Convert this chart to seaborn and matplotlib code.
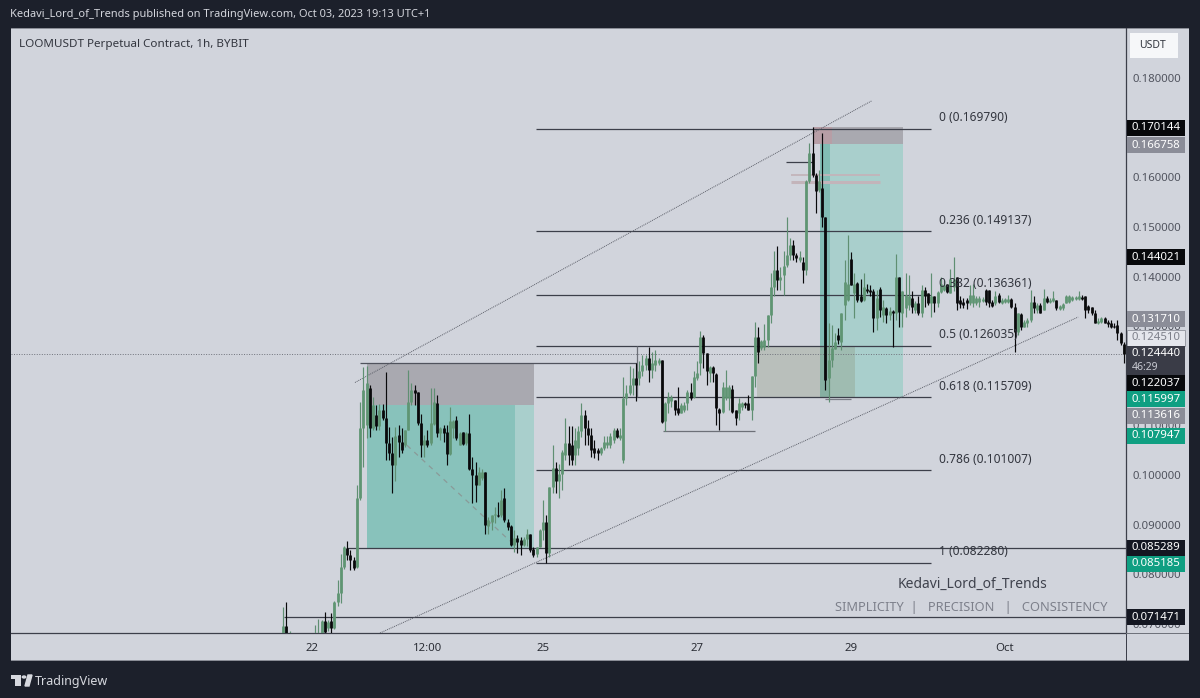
import numpy as np
import pandas as pd
import matplotlib
matplotlib.use("Agg")
import matplotlib.pyplot as plt
from matplotlib.patches import Rectangle, Circle, Polygon
import seaborn as sns

# hourly candles, hour 0 = 22 Sep 00:00
opens = [
    .0670, .0695, .0665, .0650, .0655, .0648, .0655, .0650, .0660, .0660,
    .0670, .0675, .0681, .0706, .0691, .0706, .0691, .0743, .0762, .0815,
    .0852, .0839, .0829, .0815, .0953, .1094, .1100, .1175, .1094, .1120,
    .1099, .1131, .1114, .1064, .1044, .1020, .1081, .1067, .1060, .1091,
    .1148, .1171, .1168, .1104, .1060, .1070, .1064, .1103, .1146, .1084,
    .1094, .1087, .1042, .1094, .1111, .1060, .1087, .1064, .1084, .1013,
    .1000, .0980, .0993, .1007, .0897, .0906, .0919, .0920, .0919, .0953,
    .0906, .0897, .0859, .0874, .0869, .0859, .0870, .0881, .0850, .0841,
    .0855, .0889, .0906, .0842, .0976, .1015, .0987, .1003, .1040, .1065,
    .1060, .1040, .1055, .1088, .1121, .1094, .1081, .1054, .1050, .1044,
    .1054, .1061, .1061, .1071, .1090, .1075, .1030, .1155, .1165, .1182,
    .1195, .1195, .1209, .1222, .1236, .1212, .1222, .1226, .1232, .1108,
    .1145, .1150, .1151, .1135, .1126, .1131, .1145, .1168, .1158, .1195,
    .1226, .1279, .1246, .1205, .1217, .1204, .1133, .1128, .1155, .1155,
    .1173, .1131, .1125, .1138, .1146, .1145, .1131, .1199, .1279, .1256,
    .1259, .1272, .1323, .1380, .1414, .1393, .1404, .1424, .1444, .1464,
    .1444, .1434, .1430, .1413, .1592, .1649, .1605, .1574, .1578, .1521,
    .1195, .1232, .1255, .1282, .1269, .1343, .1352, .1435, .1366, .1388,
    .1360, .1353, .1376, .1373, .1370, .1316, .1376, .1323, .1336, .1323,
    .1330, .1326, .1400, .1326, .1336, .1343, .1356, .1333, .1346, .1326,
    .1373, .1366, .1346, .1360, .1346, .1368, .1373, .1385, .1366, .1380,
    .1400, .1353, .1349, .1353, .1347, .1347, .1346, .1349, .1350, .1373,
    .1373, .1349, .1346, .1363, .1347, .1349, .1349, .1355, .1339, .1289,
    .1325, .1299, .1306, .1313, .1349, .1333, .1343, .1333, .1356, .1349,
    .1351, .1353, .1334, .1336, .1347, .1349, .1353, .1354, .1354, .1359,
    .1360, .1340, .1339, .1326, .1306, .1309, .1316, .1309, .1307, .1301,
    .1302, .1286, .1265,
]
highs = [
    .0734, .0745, .0685, .0665, .0672, .0670, .0675, .0672, .0676, .0678,
    .0698, .0709, .0708, .0723, .0707, .0721, .0747, .0788, .0841, .0857,
    .0866, .0849, .0835, .0980, .1148, .1218, .1220, .1181, .1158, .1141,
    .1144, .1144, .1208, .1097, .1077, .1097, .1101, .1094, .1091, .1212,
    .1185, .1181, .1168, .1124, .1081, .1091, .1175, .1175, .1161, .1097,
    .1101, .1101, .1138, .1111, .1118, .1087, .1087, .1087, .1124, .1037,
    .1027, .1017, .1013, .1007, .0915, .0919, .0936, .0946, .0970, .0973,
    .0912, .0899, .0889, .0879, .0876, .0876, .0892, .0882, .0855, .0855,
    .0892, .0950, .0919, .0976, .1060, .1027, .1023, .1050, .1114, .1098,
    .1099, .1094, .1098, .1145, .1131, .1111, .1094, .1071, .1054, .1057,
    .1078, .1078, .1085, .1094, .1094, .1094, .1198, .1182, .1219, .1215,
    .1226, .1229, .1242, .1242, .1259, .1249, .1252, .1236, .1232, .1148,
    .1168, .1161, .1151, .1178, .1145, .1148, .1172, .1185, .1209, .1229,
    .1291, .1283, .1246, .1219, .1219, .1205, .1135, .1188, .1212, .1182,
    .1182, .1131, .1155, .1148, .1148, .1162, .1199, .1309, .1299, .1272,
    .1305, .1323, .1407, .1451, .1461, .1420, .1451, .1520, .1477, .1474,
    .1447, .1451, .1440, .1595, .1669, .1701, .1608, .1615, .1689, .1521,
    .1306, .1302, .1286, .1296, .1326, .1433, .1484, .1450, .1407, .1390,
    .1396, .1407, .1386, .1383, .1376, .1373, .1380, .1353, .1339, .1339,
    .1333, .1446, .1400, .1370, .1407, .1403, .1370, .1350, .1360, .1383,
    .1380, .1366, .1407, .1360, .1370, .1400, .1393, .1386, .1416, .1440,
    .1400, .1360, .1356, .1356, .1383, .1386, .1360, .1360, .1358, .1376,
    .1373, .1353, .1370, .1366, .1356, .1357, .1363, .1356, .1346, .1326,
    .1326, .1312, .1316, .1373, .1360, .1346, .1346, .1376, .1360, .1356,
    .1370, .1353, .1343, .1346, .1363, .1363, .1360, .1360, .1370, .1363,
    .1360, .1343, .1339, .1333, .1316, .1319, .1319, .1312, .1312, .1306,
    .1312, .1289, .1268,
]
lows = [
    .0660, .0660, .0650, .0640, .0648, .0640, .0645, .0640, .0650, .0650,
    .0665, .0665, .0675, .0675, .0685, .0675, .0690, .0735, .0741, .0810,
    .0829, .0809, .0809, .0812, .0950, .1017, .1075, .1077, .1090, .1090,
    .1090, .1111, .1030, .1030, .0963, .0987, .1037, .1044, .1057, .1090,
    .1141, .1141, .1101, .1037, .1037, .1057, .1060, .1101, .1077, .1071,
    .1067, .1020, .1040, .1074, .1071, .1060, .1060, .1060, .1010, .0943,
    .0946, .0980, .0990, .0882, .0882, .0889, .0903, .0916, .0916, .0906,
    .0889, .0856, .0845, .0842, .0839, .0856, .0856, .0845, .0835, .0835,
    .0855, .0869, .0822, .0835, .0963, .0963, .0953, .0970, .1030, .1020,
    .1020, .1020, .1040, .1077, .1060, .1060, .1037, .1034, .1030, .1040,
    .1050, .1054, .1054, .1064, .1074, .1070, .1024, .1141, .1161, .1161,
    .1150, .1182, .1199, .1212, .1188, .1195, .1209, .1222, .1104, .1088,
    .1125, .1138, .1121, .1121, .1125, .1128, .1131, .1151, .1155, .1192,
    .1202, .1215, .1182, .1188, .1188, .1101, .1091, .1125, .1151, .1131,
    .1125, .1101, .1111, .1131, .1135, .1131, .1111, .1178, .1225, .1252,
    .1252, .1259, .1306, .1360, .1373, .1373, .1363, .1420, .1434, .1434,
    .1430, .1430, .1387, .1404, .1588, .1600, .1528, .1570, .1501, .1172,
    .1148, .1218, .1255, .1265, .1252, .1313, .1350, .1383, .1316, .1349,
    .1349, .1350, .1366, .1360, .1289, .1292, .1319, .1309, .1306, .1312,
    .1259, .1313, .1299, .1299, .1319, .1333, .1326, .1326, .1323, .1319,
    .1339, .1343, .1319, .1329, .1339, .1366, .1370, .1366, .1366, .1370,
    .1333, .1336, .1336, .1334, .1343, .1339, .1343, .1339, .1348, .1343,
    .1339, .1339, .1343, .1346, .1345, .1347, .1346, .1336, .1249, .1283,
    .1292, .1299, .1299, .1309, .1326, .1326, .1326, .1333, .1346, .1347,
    .1349, .1333, .1332, .1333, .1346, .1346, .1351, .1352, .1353, .1353,
    .1316, .1326, .1323, .1307, .1305, .1307, .1306, .1299, .1296, .1296,
    .1272, .1262, .1225,
]
closes = [
    .0695, .0670, .0675, .0655, .0650, .0660, .0662, .0665, .0668, .0670,
    .0678, .0680, .0706, .0684, .0704, .0691, .0745, .0762, .0815, .0855,
    .0839, .0829, .0812, .0953, .1094, .1171, .1185, .1094, .1141, .1099,
    .1131, .1114, .1064, .1044, .1020, .1079, .1067, .1050, .1091, .1148,
    .1171, .1166, .1104, .1060, .1070, .1060, .1104, .1148, .1084, .1094,
    .1085, .1042, .1108, .1108, .1074, .1084, .1062, .1084, .1013, .1000,
    .0980, .1007, .1007, .0899, .0909, .0919, .0922, .0918, .0950, .0909,
    .0896, .0859, .0874, .0864, .0859, .0870, .0882, .0849, .0839, .0855,
    .0889, .0906, .0842, .0976, .1015, .0987, .1003, .1047, .1065, .1040,
    .1030, .1071, .1088, .1121, .1094, .1081, .1051, .1044, .1044, .1054,
    .1067, .1067, .1078, .1091, .1076, .1080, .1155, .1165, .1182, .1195,
    .1182, .1209, .1222, .1236, .1212, .1226, .1232, .1232, .1106, .1145,
    .1158, .1158, .1131, .1125, .1141, .1141, .1168, .1155, .1198, .1205,
    .1278, .1246, .1209, .1217, .1205, .1135, .1125, .1178, .1178, .1178,
    .1128, .1115, .1145, .1146, .1142, .1131, .1199, .1279, .1249, .1271,
    .1272, .1323, .1380, .1414, .1393, .1400, .1422, .1444, .1464, .1444,
    .1437, .1440, .1413, .1592, .1649, .1605, .1572, .1592, .1521, .1192,
    .1232, .1256, .1269, .1272, .1326, .1390, .1385, .1383, .1386, .1353,
    .1350, .1380, .1370, .1368, .1316, .1356, .1333, .1339, .1323, .1330,
    .1326, .1400, .1329, .1370, .1363, .1360, .1339, .1346, .1326, .1373,
    .1360, .1346, .1360, .1346, .1368, .1386, .1383, .1368, .1396, .1396,
    .1346, .1345, .1343, .1346, .1363, .1363, .1356, .1356, .1355, .1349,
    .1346, .1341, .1360, .1349, .1353, .1354, .1355, .1339, .1289, .1326,
    .1299, .1309, .1312, .1349, .1336, .1343, .1327, .1356, .1349, .1353,
    .1356, .1336, .1340, .1345, .1360, .1361, .1358, .1358, .1360, .1354,
    .1333, .1333, .1326, .1307, .1311, .1316, .1307, .1305, .1299, .1298,
    .1286, .1267, .12444,
]
first_hour = -9

fib_ratios = ["0", "0.236", "0.382", "0.5", "0.618", "0.786", "1"]
fib_prices = [0.169790, 0.149137, 0.136361, 0.126035, 0.115709, 0.101007, 0.082280]

axis_prices = [0.18, 0.16, 0.15, 0.14, 0.13, 0.11, 0.10, 0.09, 0.08, 0.07]
time_hours = [0, 36, 72, 120, 168, 216]
time_labels = ["22", "12:00", "25", "27", "29", "Oct"]

tag_texts = ["0.170144", "0.166758", "0.144021", "0.131710", "0.124510", "0.124440",
             "0.122037", "0.115997", "0.113616", "0.107947", "0.085289", "0.085185",
             "0.071471"]
tag_rows = [128, 145, 257, 319, 338, 354, 383, 399, 416, 436, 548, 564, 617]
tag_fills = ["#08090c", "#8b8d98", "#08090c", "#8b8d98", "#e4e6ec", "#3a3c47",
             "#08090c", "#0f9f82", "#8b8d98", "#0f9f82", "#141722", "#0f9f82",
             "#141722"]

PANEL = "#d1d4dc"
DARK = "#1c202b"
LINE = "#3c3f4a"
GREEN_WICK = "#5f8f72"
GREEN_BODY = "#5f9573"
BLACK = "#09090b"


def fx(px):
    return px / 1200


def fy(py):
    return 1 - py / 698


def add_rect(x0, y0, x1, y1, color, z=1, **kw):
    fig.add_artist(Rectangle((fx(x0), fy(y1)), (x1 - x0) / 1200, (y1 - y0) / 698,
                             transform=fig.transFigure, facecolor=color,
                             edgecolor=kw.pop("edgecolor", "none"), zorder=z,
                             linewidth=kw.pop("linewidth", 0)))


sns.set_theme(style="white")
plt.rcParams["font.family"] = ["Noto Sans", "DejaVu Sans"]
plt.rcParams["lines.solid_capstyle"] = "butt"

candles = pd.DataFrame({"open": opens, "high": highs, "low": lows, "close": closes})
candles["hour"] = candles.index + first_hour
candles["direction"] = np.where(candles["close"] >= candles["open"], "up", "down")

wicks = candles.melt(id_vars=["hour", "direction"], value_vars=["high", "low"], value_name="price")
bodies = candles.melt(id_vars=["hour", "direction"], value_vars=["open", "close"], value_name="price")

fig = plt.figure(figsize=(12, 6.98), dpi=100, facecolor=DARK)
add_rect(11, 28, 1189, 661, PANEL, z=-1)
ax = fig.add_axes([fx(11), fy(633), 1115 / 1200, 605 / 698])
ax.patch.set_alpha(0)
ax.set_xlim(-93.8, 253.7)
ax.set_ylim(0.06815, 0.19012)

# position boxes
ax.axvspan(17.1, 69.2, ymin=(0.0853 - 0.06815) / 0.12197, ymax=(0.1141 - 0.06815) / 0.12197,
           color="#a9cfcc", lw=0, zorder=1)
ax.axvspan(17.1, 63.3, ymin=(0.0853 - 0.06815) / 0.12197, ymax=(0.1141 - 0.06815) / 0.12197,
           color="#88c2bb", lw=0, zorder=1)
ax.axvspan(17.1, 69.2, ymin=(0.1141 - 0.06815) / 0.12197, ymax=(0.1225 - 0.06815) / 0.12197,
           color="#a9a9b0", lw=0, zorder=1)
ax.axvspan(158.3, 184.2, ymin=(0.1157 - 0.06815) / 0.12197, ymax=(0.1668 - 0.06815) / 0.12197,
           color="#a9cfcc", lw=0, zorder=1)
ax.axvspan(158.3, 161.5, ymin=(0.1157 - 0.06815) / 0.12197, ymax=(0.1668 - 0.06815) / 0.12197,
           color="#82bdb5", lw=0, zorder=1)
ax.axvspan(156.2, 184.2, ymin=(0.1668 - 0.06815) / 0.12197, ymax=(0.1701 - 0.06815) / 0.12197,
           color="#a9a9b0", lw=0, zorder=1)
ax.axvspan(156.2, 162.1, ymin=(0.1668 - 0.06815) / 0.12197, ymax=(0.1701 - 0.06815) / 0.12197,
           color="#b79ea6", lw=0, zorder=2)
ax.axvspan(138.7, 169.3, ymin=(0.1157 - 0.06815) / 0.12197, ymax=(0.1260 - 0.06815) / 0.12197,
           color="#8f9a80", alpha=0.35, lw=0, zorder=2)

# fib levels and other horizontals
ax.hlines(fib_prices, 69.7, 192.9, color=LINE, lw=0.9, zorder=2.2)
ax.hlines(0.12258, 15, 101.2, color="#50535d", lw=0.9, zorder=2.2)
ax.vlines(101.2, 0.1157, 0.1260, color="#6d7078", lw=0.9, zorder=2.2)
ax.hlines(0.085289, 11, 253.7, color=LINE, lw=0.9, zorder=2.2)
ax.hlines(0.071471, -8.7, 253.7, color=LINE, lw=0.9, zorder=2.2)
ax.hlines(0.1089, 109.4, 138, color="#6d7078", lw=0.9, zorder=2.2)
ax.hlines(0.1631, 147.7, 156.2, color=LINE, lw=0.9, zorder=2.2)
ax.hlines(0.1154, 159.9, 168, color="#7b7e87", lw=0.9, zorder=2.2)
ax.hlines([0.1605, 0.1590], 149.3, 177.1, color="#c3b4ba", lw=[1.3, 2.2], zorder=2.2)
ax.axhline(0.12444, color="#6f727b", lw=0.7, ls=(0, (1, 1.6)), zorder=2.2)

# trend lines
ax.plot([13.4, 174.5], [0.11865, 0.17545], color="#5b5e68", lw=0.7, ls=(0, (1, 1)), zorder=2.3)
ax.plot([21.2, 238.8], [0.06815, 0.13185], color="#5b5e68", lw=0.7, ls=(0, (1, 1)), zorder=2.3)
ax.plot([29.6, 61.7], [0.1060, 0.0867], color="#8a9a98", lw=0.9, ls=(0, (4, 4)), zorder=2.3)

# candles
palette = {"up": GREEN_WICK, "down": BLACK}
sns.lineplot(data=wicks, x="hour", y="price", hue="direction", units="hour", estimator=None,
             palette=palette, lw=0.85, legend=False, sort=False, ax=ax, zorder=3)
palette = {"up": GREEN_BODY, "down": BLACK}
sns.lineplot(data=bodies, x="hour", y="price", hue="direction", units="hour", estimator=None,
             palette=palette, lw=2.0, legend=False, sort=False, ax=ax, zorder=4)

# fib labels
for ratio, price in zip(fib_ratios, fib_prices):
    ax.text(195.3, price + 0.0022, f"{ratio} ({price:.6f})", fontsize=8.65, color="#33363f",
            va="center", ha="left", zorder=5)

# axes
sns.despine(ax=ax, left=True, top=True, right=False, bottom=False)
for side in ["right", "bottom"]:
    ax.spines[side].set_color(LINE)
    ax.spines[side].set_linewidth(0.9)
ax.set_xlabel("")
ax.set_ylabel("")
ax.yaxis.tick_right()
ax.set_yticks(axis_prices, [f"{p:.6f}" for p in axis_prices])
ax.set_xticks(time_hours, time_labels)
ax.tick_params(axis="y", length=0, pad=5, labelsize=8.2, labelcolor="#50535e")
ax.tick_params(axis="x", length=0, pad=7, labelsize=8.2, labelcolor="#2a2d35")
ax.get_xticklabels()[-1].set_fontweight("bold")

add_rect(1126, 633, 1127, 661, LINE)
add_rect(1126, 633, 1189, 634, "#6f727b")
add_rect(11, 660, 1189, 661, "#8a8d96", z=0)
add_rect(11, 28, 1189, 29, "#8a8d96", z=0)

# price tags
for text, row, fill in zip(tag_texts, tag_rows, tag_fills):
    top, bottom = row - 8, row + 8
    edge = "#9a9da6" if text == "0.124510" else "none"
    add_rect(1127, top, 1185, bottom, fill, z=3, edgecolor=edge, linewidth=0.7 if edge != "none" else 0)
    color = "#7d808a" if text == "0.124510" else "white"
    fig.text(fx(1156), fy(row), text, color=color, fontsize=8.2, fontweight="semibold",
             ha="center", va="center", zorder=4)
add_rect(1127, 362, 1185, 375, "#3a3c47", z=3)
fig.text(fx(1145), fy(368), "46:29", color="#c8cad2", fontsize=7.5, ha="center", va="center", zorder=4)

# USDT button
add_rect(1130, 33, 1178, 58, "#f6f7f9", z=3)
fig.text(fx(1153), fy(45.5), "USDT", color="#33363f", fontsize=7.5, ha="center", va="center", zorder=4)

# header and watermark
fig.text(fx(10), fy(15), "Kedavi_Lord_of_Trends published on TradingView.com, Oct 03, 2023 19:13 UTC+1",
         color="#d4d6dd", fontsize=7.95, ha="left", va="center")
fig.text(fx(19), fy(44), "LOOMUSDT Perpetual Contract, 1h, BYBIT", color="#33363f", fontsize=8.4,
         ha="left", va="center", zorder=4)
fig.text(fx(972), fy(584), "Kedavi_Lord_of_Trends", color="#3f424d", fontsize=10, ha="center",
         va="center", zorder=4)
fig.text(fx(971), fy(608), "SIMPLICITY  |   PRECISION   |   CONSISTENCY", color="#7d808b", fontsize=9.25,
         ha="center", va="center", zorder=4)

# TradingView logo
add_rect(11, 675, 21, 679, "#d7d9df", z=3)
add_rect(15, 679, 21, 686, "#d7d9df", z=3)
fig.add_artist(Circle((fx(24), fy(677)), 1.7 / 1200, transform=fig.transFigure, color="#d7d9df", zorder=3))
fig.add_artist(Polygon([[fx(25), fy(686)], [fx(28), fy(675)], [fx(32), fy(675)], [fx(29), fy(686)]],
                       transform=fig.transFigure, color="#d7d9df", zorder=3))
fig.text(fx(35), fy(681), "TradingView", color="#d7d9df", fontsize=9, fontweight="semibold",
         ha="left", va="center")

fig.savefig("out.png", dpi=100, facecolor=DARK)
